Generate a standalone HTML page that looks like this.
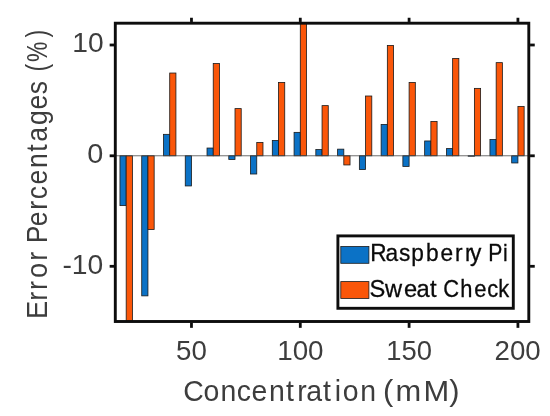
<!DOCTYPE html>
<html lang="en"><head><meta charset="utf-8"><title>Error Percentages vs Concentration</title>
<style>html,body{margin:0;padding:0;background:#fff;}body{width:550px;height:416px;overflow:hidden;}svg{display:block;}text{font-family:"Liberation Sans",sans-serif;}</style></head><body>
<svg width="550" height="416" viewBox="0 0 550 416">
<rect width="550" height="416" fill="#ffffff"/>
<defs><clipPath id="c"><rect x="115.3" y="23.2" width="413.50" height="298.30"/></clipPath></defs>
<g clip-path="url(#c)" stroke="#1a1a1a" stroke-width="0.8">
<rect x="119.96" y="155.78" width="6.22" height="49.83" fill="#0b72c6"/>
<rect x="126.18" y="155.78" width="6.22" height="176.77" fill="#fa5609"/>
<rect x="141.73" y="155.78" width="6.22" height="140.09" fill="#0b72c6"/>
<rect x="147.94" y="155.78" width="6.22" height="73.80" fill="#fa5609"/>
<rect x="163.49" y="134.34" width="6.22" height="21.43" fill="#0b72c6"/>
<rect x="169.71" y="73.03" width="6.22" height="82.75" fill="#fa5609"/>
<rect x="185.25" y="155.78" width="6.22" height="30.16" fill="#0b72c6"/>
<rect x="207.02" y="148.04" width="6.22" height="7.73" fill="#0b72c6"/>
<rect x="213.23" y="63.53" width="6.22" height="92.25" fill="#fa5609"/>
<rect x="228.78" y="155.78" width="6.22" height="3.65" fill="#0b72c6"/>
<rect x="235.00" y="108.60" width="6.22" height="47.18" fill="#fa5609"/>
<rect x="250.54" y="155.78" width="6.22" height="18.23" fill="#0b72c6"/>
<rect x="256.76" y="142.41" width="6.22" height="13.37" fill="#fa5609"/>
<rect x="272.31" y="140.42" width="6.22" height="15.36" fill="#0b72c6"/>
<rect x="278.52" y="82.42" width="6.22" height="73.36" fill="#fa5609"/>
<rect x="294.07" y="132.36" width="6.22" height="23.42" fill="#0b72c6"/>
<rect x="300.29" y="12.15" width="6.22" height="143.63" fill="#fa5609"/>
<rect x="315.83" y="149.59" width="6.22" height="6.19" fill="#0b72c6"/>
<rect x="322.05" y="105.62" width="6.22" height="50.16" fill="#fa5609"/>
<rect x="337.60" y="149.15" width="6.22" height="6.63" fill="#0b72c6"/>
<rect x="343.81" y="155.78" width="6.22" height="9.17" fill="#fa5609"/>
<rect x="359.36" y="155.78" width="6.22" height="13.81" fill="#0b72c6"/>
<rect x="365.58" y="96.01" width="6.22" height="59.77" fill="#fa5609"/>
<rect x="381.12" y="124.40" width="6.22" height="31.38" fill="#0b72c6"/>
<rect x="387.34" y="45.41" width="6.22" height="110.37" fill="#fa5609"/>
<rect x="402.88" y="155.78" width="6.22" height="10.61" fill="#0b72c6"/>
<rect x="409.10" y="82.42" width="6.22" height="73.36" fill="#fa5609"/>
<rect x="424.65" y="140.97" width="6.22" height="14.80" fill="#0b72c6"/>
<rect x="430.87" y="121.42" width="6.22" height="34.36" fill="#fa5609"/>
<rect x="446.41" y="148.60" width="6.22" height="7.18" fill="#0b72c6"/>
<rect x="452.63" y="58.44" width="6.22" height="97.33" fill="#fa5609"/>
<rect x="468.17" y="155.78" width="6.22" height="0.44" fill="#0b72c6"/>
<rect x="474.39" y="88.38" width="6.22" height="67.39" fill="#fa5609"/>
<rect x="489.94" y="139.43" width="6.22" height="16.35" fill="#0b72c6"/>
<rect x="496.16" y="62.64" width="6.22" height="93.14" fill="#fa5609"/>
<rect x="511.70" y="155.78" width="6.22" height="7.18" fill="#0b72c6"/>
<rect x="517.92" y="106.39" width="6.22" height="49.39" fill="#fa5609"/>
</g>
<line x1="115.3" y1="155.78" x2="528.8" y2="155.78" stroke="#4a4a4a" stroke-width="0.8"/>
<rect x="115.3" y="23.2" width="413.50" height="298.30" fill="none" stroke="#0d0d0d" stroke-width="2.9"/>
<g stroke="#0d0d0d" stroke-width="2.8">
<line x1="191.47" y1="322.75" x2="191.47" y2="327.85"/>
<line x1="191.47" y1="21.95" x2="191.47" y2="17.75"/>
<line x1="300.29" y1="322.75" x2="300.29" y2="327.85"/>
<line x1="300.29" y1="21.95" x2="300.29" y2="17.75"/>
<line x1="409.10" y1="322.75" x2="409.10" y2="327.85"/>
<line x1="409.10" y1="21.95" x2="409.10" y2="17.75"/>
<line x1="517.92" y1="322.75" x2="517.92" y2="327.85"/>
<line x1="517.92" y1="21.95" x2="517.92" y2="17.75"/>
<line x1="114.05" y1="45.00" x2="109.65" y2="45.00"/>
<line x1="530.05" y1="45.00" x2="534.75" y2="45.00"/>
<line x1="114.05" y1="155.80" x2="109.65" y2="155.80"/>
<line x1="530.05" y1="155.80" x2="534.75" y2="155.80"/>
<line x1="114.05" y1="266.30" x2="109.65" y2="266.30"/>
<line x1="530.05" y1="266.30" x2="534.75" y2="266.30"/>
</g>
<g fill="#3d3d3d">
<text transform="translate(72.36 52.2) scale(1.0517 1)" font-size="26.8">10</text>
<text transform="translate(87.17 163.2) scale(1.0772 1)" font-size="26.8">0</text>
<text transform="translate(62.46 273.8) scale(1.0547 1)" font-size="26.8">-10</text>
<text transform="translate(176.09 360.1) scale(1.0331 1)" font-size="26.8">50</text>
<text transform="translate(277.19 360.1) scale(1.0380 1)" font-size="26.8">100</text>
<text transform="translate(386.32 360.1) scale(1.0235 1)" font-size="26.8">150</text>
<text transform="translate(494.52 360.1) scale(1.0327 1)" font-size="26.8">200</text>
<text transform="translate(0 400.5) scale(0.9683 1)" font-size="29.4" x="189.18 210.25 227.64 244.61 259.85 277.88 295.39 306.89 316.31 333.60 345.80 354.06 371.96">Concentration</text>
<text transform="translate(0 400.5) scale(1.0508 1)" font-size="29.4" x="364.56 376.30 402.99 427.49">(mM)</text>
<text transform="translate(46.7 0) rotate(-90) scale(0.9255 1)" font-size="29.4" x="-344.78 -325.05 -313.38 -300.38 -281.72">Error</text>
<text transform="translate(46.7 0) rotate(-90) scale(0.9055 1)" font-size="29.4" x="-268.61 -249.73 -231.66 -220.18 -203.82 -185.61 -167.46 -156.51 -138.17 -120.85 -104.09">Percentages</text>
<text transform="translate(46.7 0) rotate(-90) scale(0.7772 1)" font-size="29.4" x="-91.93 -79.80 -48.27">(%)</text>
</g>
<rect x="337.9" y="235.9" width="175.4" height="72.4" fill="#ffffff" stroke="#0d0d0d" stroke-width="2.9"/>
<rect x="340.8" y="246.5" width="28.1" height="16.8" fill="#0b72c6" stroke="#1a1a1a" stroke-width="0.8"/>
<rect x="340.8" y="281.6" width="28.1" height="16.8" fill="#fa5609" stroke="#1a1a1a" stroke-width="0.8"/>
<g fill="#0a0a0a" stroke="#0a0a0a" stroke-width="0.3">
<text transform="translate(0 261.2) scale(0.9451 1)" font-size="24" x="391.81 407.90 422.13 435.06 450.77 466.04 481.54 492.12 497.36">Raspberry</text>
<text transform="translate(0 261.2) scale(0.8804 1)" font-size="24" x="554.59 571.35">Pi</text>
<text transform="translate(0 296.5) scale(0.9859 1)" font-size="24" x="374.69 390.61 409.78 422.43 436.27">Sweat</text>
<text transform="translate(0 296.5) scale(0.9131 1)" font-size="24" x="485.46 503.93 519.50 533.64 545.61">Check</text>
</g>
</svg></body></html>
